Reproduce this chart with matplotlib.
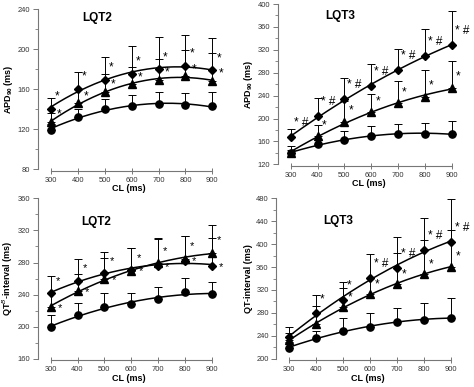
import numpy as np
import matplotlib.pyplot as plt
from matplotlib.ticker import MultipleLocator

plt.rcParams['font.family'] = ['Liberation Sans', 'DejaVu Sans']
plt.rcParams['mathtext.fontset'] = 'custom'
plt.rcParams['mathtext.bf'] = 'Liberation Sans:bold'
plt.rcParams['mathtext.rm'] = 'Liberation Sans:bold'

cl = np.array([300, 400, 500, 600, 700, 800, 900])

# APD90, LQT2
apd2_dia = [140.5, 160.5, 169.5, 175.5, 180, 183.5, 179]
apd2_dia_sd = [11, 17, 23, 28, 32, 30.5, 31.7]
apd2_tri = [127.3, 145.7, 157.3, 165, 169.5, 173, 168.5]
apd2_tri_sd = [9, 14, 18, 17, 20.5, 26, 28]
apd2_cir = [119.5, 132.3, 139.7, 143.3, 145, 144, 143.3]
apd2_cir_sd = [6, 8, 10.3, 11, 11.7, 11.7, 13.4]

# APD90, LQT3
apd3_dia = [167.5, 204, 233.5, 257, 284.5, 310, 329]
apd3_dia_sd = [15, 31, 38, 37.7, 37.2, 45.8, 58.6]
apd3_tri = [140.5, 168.7, 194, 211, 226.5, 238, 254]
apd3_tri_sd = [12.3, 20.7, 36, 31.3, 39.3, 46.6, 47]
apd3_cir = [139.5, 155, 163, 168.7, 173.5, 173.5, 173]
apd3_cir_sd = [6, 7, 15.8, 17.7, 17.5, 18.8, 23.4]

# QT interval, LQT2
qt2_dia = [241.7, 257.5, 266.7, 270.5, 276, 282.5, 276]
qt2_dia_sd = [22, 26.5, 27, 27.5, 34.5, 31, 35]
qt2_tri = [224.5, 244.6, 259.2, 270, 279, 285, 292.5]
qt2_tri_sd = [17.5, 21, 27, 28, 30, 28, 34]
qt2_cir = [199.2, 214.6, 224.2, 228.4, 234.6, 243, 240.5]
qt2_cir_sd = [15.4, 15.4, 17.5, 13.3, 14.4, 17.5, 15.5]

# QT interval, LQT3
qt3_dia = [238.5, 279.4, 302.7, 341.8, 359.3, 390.2, 403.7]
qt3_dia_sd = [16, 31.6, 32, 41, 52.5, 55.5, 75.8]
qt3_tri = [232.7, 260.7, 290, 312.7, 330.2, 347.7, 361]
qt3_tri_sd = [12, 31, 34, 28, 54, 60, 63]
qt3_cir = [219.3, 235.6, 248.5, 256, 263.7, 267.7, 271.8]
qt3_cir_sd = [10, 13, 23, 24.5, 25, 30, 34]

# significance marks
apd2_dia_sig = ['*'] * 7
apd2_tri_sig = ['*'] * 7
apd3_dia_sig = ['* #'] * 7
apd3_tri_sig = ['', '*', '*', '*', '*', '*', '*']
qt2_up_sig = ['*'] * 7
qt2_low_sig = ['*'] * 7
qt3_dia_sig = ['', '*', '*', '* #', '* #', '* #', '* #']
qt3_tri_sig = ['', '', '*', '*', '*', '*', '*']

W, H = 474, 387
fig = plt.figure(figsize=(W / 100, H / 100), dpi=100)

PX = 0.72  # points per pixel at 100 dpi
grid = np.linspace(300, 900, 200)


def make_ax(left_px, bottom_px, ylim, ylabel, title, tpos):
    ax = fig.add_axes([left_px / W, 1 - bottom_px / H, 182.4 / W, 160.3 / H])
    ax.set_xlim(252, 930)
    ax.set_ylim(*ylim)
    for s in ['top', 'right']:
        ax.spines[s].set_visible(False)
    for s in ['left', 'bottom']:
        ax.spines[s].set_color('#777777')
        ax.spines[s].set_linewidth(0.8)
    ax.spines['bottom'].set_bounds(300, 900)
    ax.spines['bottom'].set_position(('outward', 1))
    ax.set_xticks(cl)
    ax.yaxis.set_major_locator(MultipleLocator(40))
    ax.yaxis.set_minor_locator(MultipleLocator(20))
    ax.tick_params(axis='y', which='major', direction='out', length=3.5, width=0.7,
                   color='#777777', labelsize=5.4, labelcolor='#333333', pad=2)
    ax.tick_params(axis='y', which='minor', direction='out', length=2.5, width=0.6, color='#777777')
    ax.tick_params(axis='x', direction='inout', length=4.5, width=0.7,
                   color='#777777', labelsize=5.4, labelcolor='#333333', pad=2)
    ax.set_xlabel('CL (ms)', fontsize=6.5, fontweight='bold', labelpad=0.5)
    ax.set_ylabel(ylabel, fontsize=6.5, fontweight='bold', labelpad=2)
    ax.text(tpos[0], tpos[1], title, transform=ax.transAxes, fontsize=8.5,
            fontweight='bold', ha='center', va='center')
    return ax


def draw_series(ax, y, sd, marker, ms):
    y = np.asarray(y)
    ax.errorbar(cl, y, yerr=[np.zeros(len(y)), sd], fmt='none', ecolor='black',
                elinewidth=0.7, capsize=2.6, capthick=0.7, zorder=2)
    fit = np.polyfit(cl, y, 2)
    ax.plot(grid, np.polyval(fit, grid), color='black', lw=1.1, zorder=3)
    ax.plot(cl, y, linestyle='none', marker=marker, color='black', ms=ms, zorder=4)


def mark(ax, base, labels, dx, dy, size=8.5):
    for x, yb, t in zip(cl, base, labels):
        if t:
            ax.annotate(t, (x, yb), xytext=(dx * PX, dy * PX), textcoords='offset points',
                        ha='left', va='center', fontsize=size)


def panel(ax, dia, dia_sd, tri, tri_sd, cir, cir_sd):
    draw_series(ax, cir, cir_sd, 'o', 5.2)
    draw_series(ax, tri, tri_sd, '^', 5.2)
    draw_series(ax, dia, dia_sd, 'D', 4.4)


ax1 = make_ax(38, 169.3, (80, 240), r'APD$_{90}$ (ms)', 'LQT2', (0.322, 0.942))
panel(ax1, apd2_dia, apd2_dia_sd, apd2_tri, apd2_tri_sd, apd2_cir, apd2_cir_sd)
mark(ax1, apd2_dia, apd2_dia_sig, 4, 12)
mark(ax1, apd2_tri, apd2_tri_sig, 6, 7)

ax2 = make_ax(277.7, 164.3, (120, 400), r'APD$_{90}$ (ms)', 'LQT3', (0.342, 0.927))
panel(ax2, apd3_dia, apd3_dia_sd, apd3_tri, apd3_tri_sd, apd3_cir, apd3_cir_sd)
mark(ax2, apd3_dia, apd3_dia_sig, 3, 14)
mark(ax2, apd3_tri, apd3_tri_sig, 4, 11)

ax3 = make_ax(37.7, 358.7, (160, 360), r'QT$^{B}$-interval (ms)', 'LQT2', (0.323, 0.85))
panel(ax3, qt2_dia, qt2_dia_sd, qt2_tri, qt2_tri_sd, qt2_cir, qt2_cir_sd)
mark(ax3, np.maximum(qt2_dia, qt2_tri), qt2_up_sig, 5, 12, 8)
mark(ax3, np.minimum(qt2_dia, qt2_tri), qt2_low_sig, 7, -1, 8)

ax4 = make_ax(276.3, 358.7, (200, 480), 'QT-interval (ms)', 'LQT3', (0.342, 0.86))
panel(ax4, qt3_dia, qt3_dia_sd, qt3_tri, qt3_tri_sd, qt3_cir, qt3_cir_sd)
mark(ax4, qt3_dia, qt3_dia_sig, 4, 14)
mark(ax4, qt3_tri, qt3_tri_sig, 5, 10)

fig.savefig('out.png', dpi=100)
